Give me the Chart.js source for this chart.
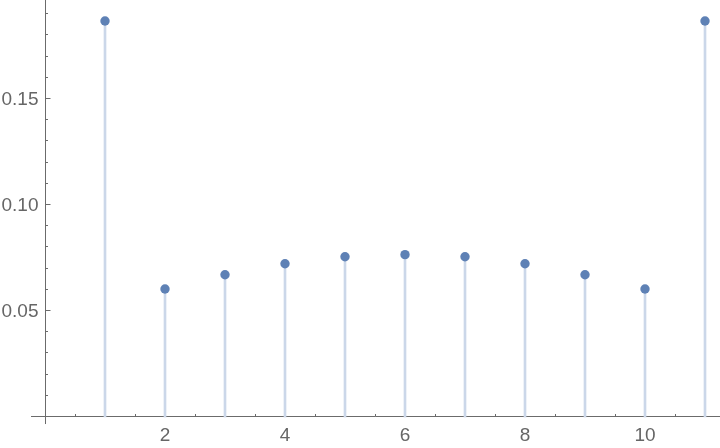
<!DOCTYPE html>
<html>
<head>
<meta charset="utf-8">
<script src="https://cdn.jsdelivr.net/npm/chart.js@4/dist/chart.umd.min.js"></script>
<style>
  html, body { margin: 0; padding: 0; background: #fff; }
  #wrap { width: 720px; height: 448px; }
</style>
</head>
<body>
<div id="wrap"><canvas id="chart1" width="720" height="448"></canvas></div>
<script>
xs = [1, 2, 3, 4, 5, 6, 7, 8, 9, 10, 11]
ys = [0.1868, 0.0604, 0.0671, 0.0723, 0.0756, 0.0766, 0.0756, 0.0723, 0.0671, 0.0604, 0.1868]
xTicks = [2, 4, 6, 8, 10]
yTicks = [0.05, 0.10, 0.15]
yLabels = ["0.05", "0.10", "0.15"]

pts = xs.map((x, i) => { return {x: x, y: ys[i]} })

// axes drawn by hand, at x=0 / y=0, like the original
axesPlugin = {
  id: 'axes',
  beforeDatasetsDraw(chart) {
    var ctx = chart.ctx
    var sx = chart.scales.x, sy = chart.scales.y
    var x0 = Math.round(sx.getPixelForValue(0)) + 0.5
    var y0 = Math.round(sy.getPixelForValue(0)) - 0.5
    ctx.save()
    ctx.strokeStyle = '#6b6b6b'
    ctx.lineWidth = 1
    ctx.beginPath()
    ctx.moveTo(sx.getPixelForValue(-0.233), y0)
    ctx.lineTo(chart.width, y0)
    ctx.moveTo(x0, 0)
    ctx.lineTo(x0, sy.getPixelForValue(-0.0033))
    ctx.stroke()

    // x ticks: minor every 0.5, major every 2
    ctx.beginPath()
    for (var k = 1; k <= 22; k++) {
      var v = k / 2
      var px = Math.round(sx.getPixelForValue(v)) + 0.5
      var len = (v % 2 === 0) ? 5 : 2.5
      ctx.moveTo(px, y0)
      ctx.lineTo(px, y0 - len)
    }
    // y ticks: minor every 0.01, major every 0.05
    for (var j = 1; j <= 19; j++) {
      var py = Math.round(sy.getPixelForValue(j / 100)) - 0.5
      var len2 = (j % 5 === 0) ? 5 : 2.5
      ctx.moveTo(x0, py)
      ctx.lineTo(x0 + len2, py)
    }
    ctx.stroke()

    ctx.fillStyle = '#666'
    ctx.font = '19px "Liberation Sans", Arial, sans-serif'
    ctx.textAlign = 'center'
    ctx.textBaseline = 'middle'
    xTicks.forEach(t => {
      ctx.fillText(String(t), sx.getPixelForValue(t), y0 + 19)
    })
    ctx.textAlign = 'right'
    yTicks.forEach((t, i) => {
      ctx.fillText(yLabels[i], x0 - 7, sy.getPixelForValue(t) + 1)
    })
    ctx.restore()
  }
}

var ctx = document.getElementById('chart1').getContext('2d')
var myChart = new Chart(ctx, {
  type: 'scatter',
  data: {
    datasets: [{
      type: 'scatter',
      data: pts,
      pointRadius: 4.7,
      pointHoverRadius: 4.7,
      pointBackgroundColor: '#5e81b5',
      pointBorderWidth: 0,
      order: 0
    }, {
      type: 'bar',
      data: pts,
      barThickness: 2,
      backgroundColor: '#cbd7e9',
      borderWidth: 0,
      order: 1
    }]
  },
  options: {
    responsive: false,
    animation: false,
    devicePixelRatio: 1,
    layout: { padding: 0, autoPadding: false },
    plugins: { legend: { display: false }, tooltip: { enabled: false } },
    scales: {
      x: { type: 'linear', min: -0.75, max: 11.25, offset: false, display: false },
      y: { type: 'linear', min: -0.0146, max: 0.1967, display: false }
    }
  },
  plugins: [axesPlugin]
})
</script>
</body>
</html>
